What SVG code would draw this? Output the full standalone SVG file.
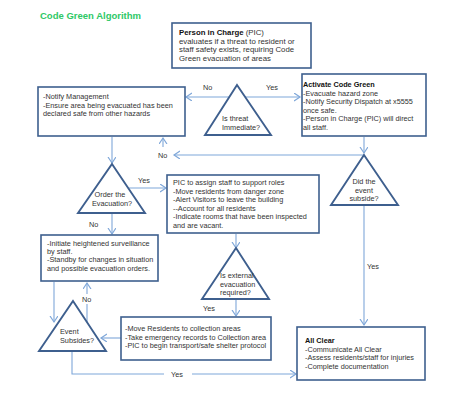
<svg xmlns="http://www.w3.org/2000/svg" width="450" height="400" viewBox="0 0 450 400">
<style>
.box{fill:#fff;stroke:#3e5f8e;stroke-width:1.6}
.tri{fill:#fff;stroke:#3e5f8e;stroke-width:1.9;stroke-linejoin:miter}
text{font-family:"Liberation Sans",Arial,sans-serif;font-size:7.3px;fill:#333}
.b{font-weight:bold;fill:#111}
.top text{font-size:7.8px}
.c{fill:none;stroke:#7fa7d9;stroke-width:1.1}
.lb{fill:#fff;stroke:none}
</style>
<defs>
<marker id="a" markerWidth="10" markerHeight="10" refX="6" refY="4" orient="auto" markerUnits="userSpaceOnUse">
<path d="M0,0 L6,4 L0,8" fill="none" stroke="#7fa7d9" stroke-width="1.2"/>
</marker>
</defs>
<rect width="450" height="400" fill="#fff"/>
<text x="40" y="19" style="font-size:9.5px;font-weight:bold;fill:#2ec866">Code Green Algorithm</text>

<g id="connectors">
<line class="c" x1="229" y1="97" x2="186" y2="97" marker-end="url(#a)"/>
<text x="203" y="90">No</text>
<line class="c" x1="245" y1="97" x2="300" y2="97" marker-end="url(#a)"/>
<text x="266" y="90">Yes</text>
<line class="c" x1="364" y1="137" x2="364" y2="153" marker-end="url(#a)"/>
<line class="c" x1="364" y1="155" x2="174" y2="155" marker-end="url(#a)"/>
<text x="158" y="158">No</text>
<line class="c" x1="163" y1="147" x2="163" y2="138" marker-end="url(#a)"/>
<line class="c" x1="112" y1="137" x2="112" y2="163" marker-end="url(#a)"/>
<line class="c" x1="129" y1="188" x2="166" y2="188" marker-end="url(#a)"/>
<text x="138" y="183">Yes</text>
<line class="c" x1="112" y1="214" x2="112" y2="234" marker-end="url(#a)"/>
<text x="89" y="227">No</text>
<line class="c" x1="236" y1="234" x2="236" y2="248" marker-end="url(#a)"/>
<line class="c" x1="236" y1="300" x2="236" y2="316" marker-end="url(#a)"/>
<text x="203" y="311">Yes</text>
<line class="c" x1="364" y1="206" x2="364" y2="325" marker-end="url(#a)"/>
<rect class="lb" x="365" y="262" width="14" height="9"/>
<text x="367" y="269">Yes</text>
<line class="c" x1="54" y1="282" x2="54" y2="322" marker-end="url(#a)"/>
<line class="c" x1="87" y1="322" x2="87" y2="283" marker-end="url(#a)"/>
<rect class="lb" x="81" y="294" width="14" height="10"/>
<text x="82" y="302">No</text>
<line class="c" x1="121" y1="338" x2="101" y2="338" marker-end="url(#a)"/>
<polyline class="c" points="72,352 72,374 296,374" marker-end="url(#a)"/>
<rect class="lb" x="164" y="369" width="28" height="10"/>
<text x="171" y="377">Yes</text>
</g>

<g id="pic-evaluates" class="top">
<rect class="box" x="172" y="23" width="139" height="45"/>
<text x="179" y="35"><tspan class="b">Person in Charge</tspan> (PIC)</text>
<text x="179" y="43.5">evaluates if a threat to resident or</text>
<text x="179" y="52">staff safety exists, requiring Code</text>
<text x="179" y="60.5">Green evacuation of areas</text>
</g>

<g id="notify-management">
<rect class="box" x="38" y="87" width="147" height="49"/>
<text x="43" y="99">-Notify Management</text>
<text x="43" y="107.5">-Ensure area being evacuated has been</text>
<text x="43" y="116">declared safe from other hazards</text>
</g>

<g id="is-threat-immediate">
<polygon class="tri" points="237,85 271,135 205,135"/>
<text x="222" y="121">Is threat</text>
<text x="222" y="130">Immediate?</text>
</g>

<g id="activate-code-green">
<rect class="box" x="302" y="74" width="124" height="62"/>
<text x="303" y="87" class="b">Activate Code Green</text>
<text x="303" y="95.5">-Evacuate hazard zone</text>
<text x="303" y="104">-Notify Security Dispatch at x5555</text>
<text x="303" y="112.5">once safe.</text>
<text x="303" y="121">-Person in Charge (PIC) will direct</text>
<text x="303" y="129.5">all staff.</text>
</g>

<g id="order-evacuation">
<polygon class="tri" points="112,164 145,213 78,213"/>
<text x="110" y="197" text-anchor="middle">Order the</text>
<text x="112" y="205.5" text-anchor="middle">Evacuation?</text>
</g>

<g id="did-event-subside">
<polygon class="tri" points="364,155 398,205 331,205"/>
<text x="364" y="184" text-anchor="middle">Did the</text>
<text x="364" y="192.5" text-anchor="middle">event</text>
<text x="364" y="201" text-anchor="middle">subside?</text>
</g>

<g id="pic-assign-staff">
<rect class="box" x="167" y="175" width="152" height="58"/>
<text x="173" y="185">PIC to assign staff to support roles</text>
<text x="173" y="193.5">-Move residents from danger zone</text>
<text x="173" y="202">-Alert Visitors to leave the building</text>
<text x="173" y="210.5">--Account for all residents</text>
<text x="173" y="219">-Indicate rooms that have been inspected</text>
<text x="173" y="227.5">and are vacant.</text>
</g>

<g id="heightened-surveillance">
<rect class="box" x="41" y="235" width="117" height="46"/>
<text x="47" y="245.5">-Initiate heightened surveillance</text>
<text x="47" y="254">by staff.</text>
<text x="47" y="262">-Standby for changes in situation</text>
<text x="47" y="270.5">and possible evacuation orders.</text>
</g>

<g id="is-external-evacuation">
<polygon class="tri" points="236,248 269,299 202,299"/>
<text x="220" y="278">Is external</text>
<text x="220" y="286.5">evacuation</text>
<text x="220" y="295">required?</text>
</g>

<g id="event-subsides">
<polygon class="tri" points="73,301 106,351 39,351"/>
<text x="60" y="334">Event</text>
<text x="60" y="343">Subsides?</text>
</g>

<g id="move-residents">
<rect class="box" x="121" y="317" width="150" height="43"/>
<text x="125" y="331">-Move Residents to collection areas</text>
<text x="125" y="339.5">-Take emergency records to Collection area</text>
<text x="125" y="348">-PIC to begin transport/safe shelter protocol</text>
</g>

<g id="all-clear">
<rect class="box" x="297" y="327" width="128" height="53"/>
<text x="305" y="343" class="b">All Clear</text>
<text x="305" y="351.5">-Communicate All Clear</text>
<text x="305" y="360">-Assess residents/staff for injuries</text>
<text x="305" y="368.5">-Complete documentation</text>
</g>
</svg>
